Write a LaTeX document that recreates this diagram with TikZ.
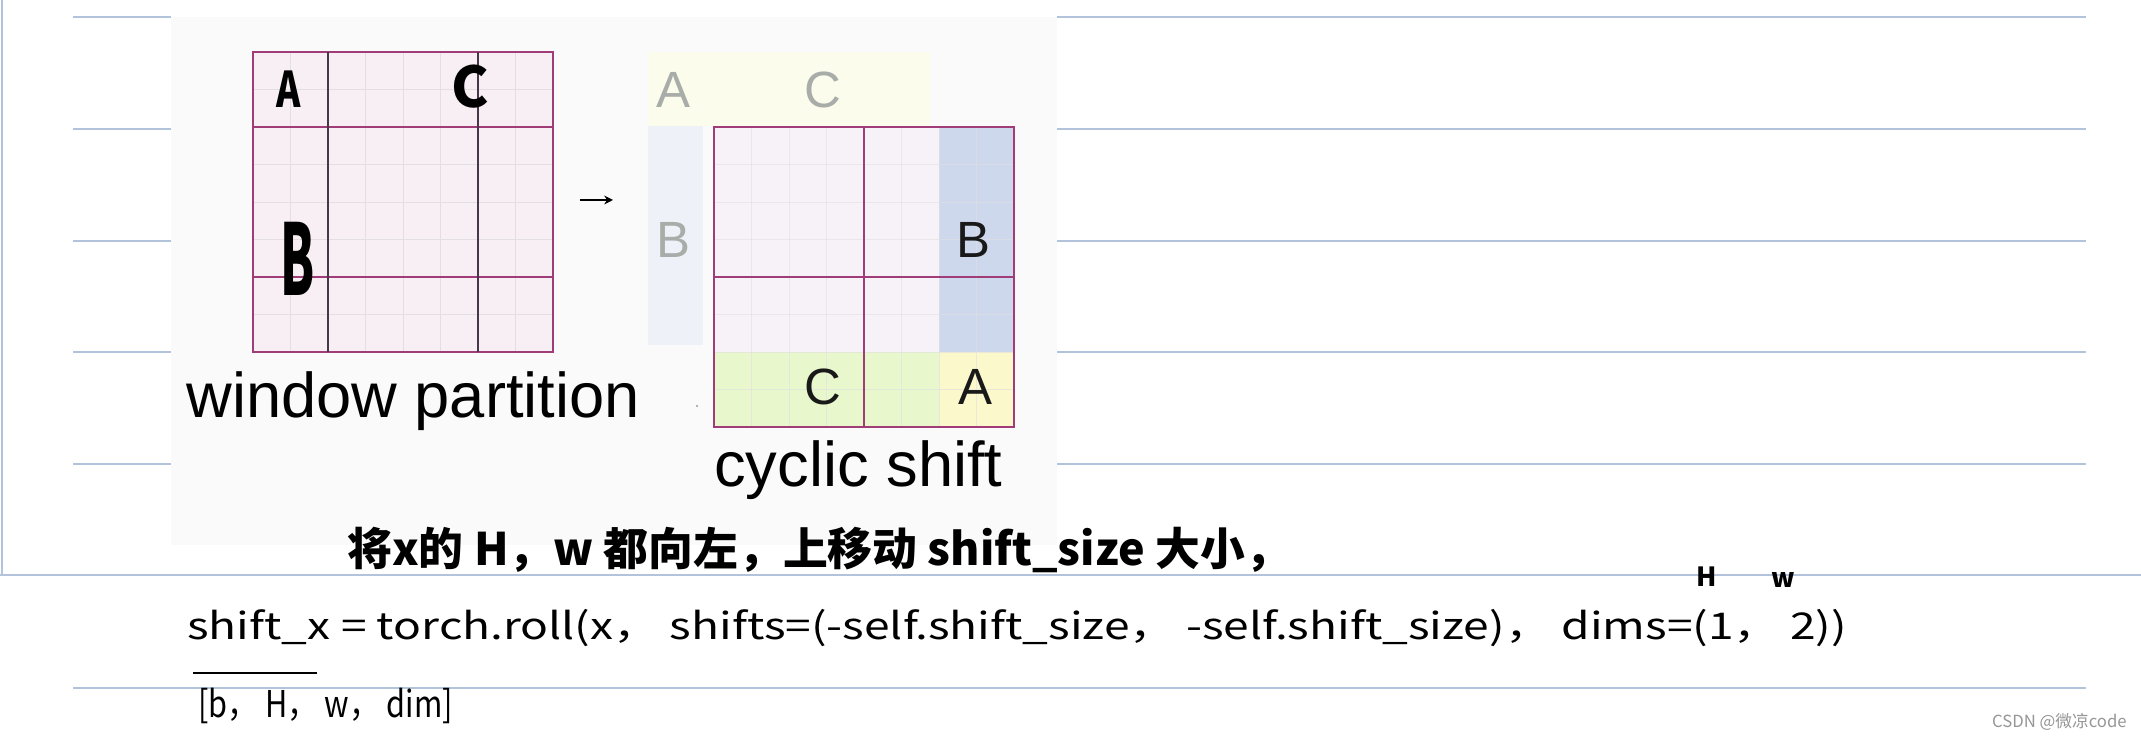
\documentclass[tikz,border=0pt]{standalone}
\usepackage{fontspec}
\setmainfont{Liberation Sans}
\newfontfamily\handfont{Noto Sans CJK SC}
\usetikzlibrary{arrows.meta}

\definecolor{ruleblue}{RGB}{179,195,220}
\definecolor{shotgray}{RGB}{250,250,250}
\definecolor{winfill}{RGB}{248,239,245}
\definecolor{shiftfill}{RGB}{246,242,248}
\definecolor{winred}{RGB}{160,60,120}
\definecolor{windark}{RGB}{70,56,72}
\definecolor{finegray}{RGB}{226,222,226}
\definecolor{shiftblue}{RGB}{205,216,236}
\definecolor{shiftgreen}{RGB}{232,247,204}
\definecolor{shiftyellow}{RGB}{251,249,204}
\definecolor{ghostyellow}{RGB}{252,252,236}
\definecolor{ghostblue}{RGB}{238,241,247}
\definecolor{ghostgray}{RGB}{169,173,169}
\definecolor{wmgray}{RGB}{150,150,150}

\begin{document}
\begin{tikzpicture}[x=0.02cm, y=-0.02cm,
  ruleline/.style={draw=ruleblue, line width=1.1pt},
  winline/.style={draw=winred, line width=1pt},
  darkline/.style={draw=windark, line width=1pt},
  fineline/.style={draw=finegray, line width=0.5pt},
  printlbl/.style={inner sep=0pt, text=black!90, font=\fontsize{29}{29}\selectfont},
  ghostlbl/.style={printlbl, text=ghostgray},
  handlbl/.style={inner sep=0pt, font=\handfont\bfseries},
  caption/.style={inner sep=0pt, anchor=base west, font=\fontsize{36}{36}\selectfont},
  handline/.style={inner sep=0pt, anchor=base west},
]
\useasboundingbox (0,0) rectangle (2141,739);
\fill[white] (0,0) rectangle (2141,739);

% screenshot area and notebook lines
\fill[shotgray] (171,17) rectangle (1057,545);
\foreach \ry in {17,129,241,352,464} {
  \draw[ruleline] (73,\ry) -- (171,\ry);
  \draw[ruleline] (1057,\ry) -- (2086,\ry);
}
\draw[ruleline] (0,575) -- (2141,575);
\draw[ruleline] (73,688) -- (2086,688);
\draw[ruleline] (2,0) -- (2,575);

% window partition
\fill[winfill] (253,52) rectangle (553,352);
\foreach \k in {1,...,7} {
  \draw[fineline] (253+37.5*\k,52) -- (253+37.5*\k,352);
  \draw[fineline] (253,52+37.5*\k) -- (553,52+37.5*\k);
}
\draw[winline] (253,52) rectangle (553,352);
\draw[winline] (253,127) -- (553,127);
\draw[winline] (253,277) -- (553,277);
\draw[darkline] (328,52) -- (328,352);
\draw[darkline] (478,52) -- (478,352);

\node[handlbl, font=\handfont\bfseries\fontsize{28}{28}\selectfont] (handA) at (289,89) {\scalebox{0.75}[1]{A}};
\node[handlbl, font=\handfont\bfseries\fontsize{32}{32}\selectfont] (handC) at (470,87) {C};
\node[handlbl, font=\handfont\bfseries\fontsize{56}{56}\selectfont] (handB) at (298,259) {\scalebox{0.5}[1]{B}};

\node[caption] (wpart) at (186,418) {window partition};

\coordinate (arrtail) at (580,200);
\coordinate (arrhead) at (613,200);
\draw[line width=1pt, -{Stealth[length=5pt, width=5pt]}] (arrtail) -- (arrhead);

% cyclic shift
\fill[ghostyellow] (648,52) rectangle (930,126);
\fill[ghostblue] (648,126) rectangle (703,345);
\node[ghostlbl] (gA) at (673,90) {A};
\node[ghostlbl] (gC) at (823,90) {C};
\node[ghostlbl] (gB) at (673,240) {B};

\fill[shiftfill] (714,127) rectangle (1014,427);
\fill[shiftblue] (939,127) rectangle (1014,352);
\fill[shiftgreen] (714,352) rectangle (939,427);
\fill[shiftyellow] (939,352) rectangle (1014,427);
\foreach \k in {1,...,7} {
  \draw[fineline, opacity=0.6] (714+37.5*\k,127) -- (714+37.5*\k,427);
  \draw[fineline, opacity=0.6] (714,127+37.5*\k) -- (1014,127+37.5*\k);
}
\draw[winline, line width=0.8pt] (714,127) rectangle (1014,427);
\draw[winline, line width=0.8pt] (864,127) -- (864,427);
\draw[winline, line width=0.8pt] (714,277) -- (1014,277);

\node[printlbl] (sB) at (973,240) {B};
\node[printlbl] (sC) at (823,387) {C};
\node[printlbl] (sA) at (975,387) {A};
\fill[black!40] (697,406) circle (1.2);

\node[caption] (cshift) at (714,487) {cyclic shift};

% handwritten notes
\node[handline, font=\handfont\bfseries\fontsize{25.5}{25.5}\selectfont] (note) at (347,566)
  {将x的 H，w 都向左，上移动 shift\_size 大小，};
\node[handline, font=\handfont\fontsize{21}{21}\selectfont] (code) at (187,640)
  {\scalebox{1.25}[1]{shift\_x = torch.roll(x， shifts=(-self.shift\_size， -self.shift\_size)， dims=(1， 2))}};
\coordinate (ulleft) at (193,673);
\coordinate (ulright) at (317,673);
\draw[line width=1.5pt] (ulleft) -- (ulright);
\node[handline, font=\handfont\fontsize{21}{21}\selectfont] (shape) at (198,718)
  {\scalebox{0.83}[1]{[b， H， w， dim]}};
\node[handlbl, font=\handfont\bfseries\fontsize{15}{15}\selectfont] (dimH) at (1707,577) {H};
\node[handlbl, font=\handfont\bfseries\fontsize{15}{15}\selectfont] (dimW) at (1783,580) {w};

\node[anchor=base east, inner sep=0pt, text=wmgray, font=\handfont\fontsize{9.5}{10}\selectfont] (wmark) at (2127,727) {CSDN @微凉code};
\end{tikzpicture}
\end{document}
